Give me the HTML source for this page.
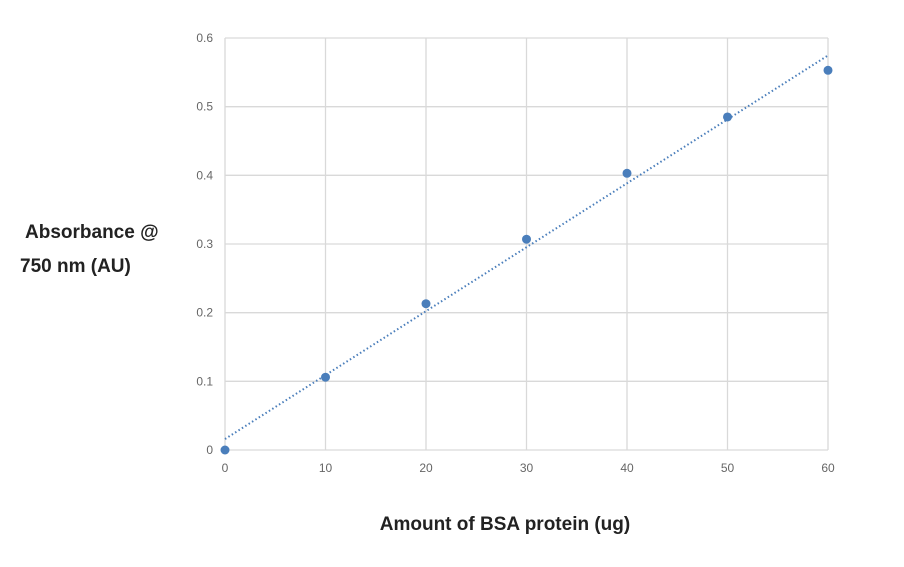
<!DOCTYPE html>
<html><head><meta charset="utf-8"><style>
body{margin:0;background:#fff;width:904px;height:562px;overflow:hidden;font-family:"Liberation Sans",sans-serif}
</style></head><body>
<svg id="chart" width="904" height="562" xmlns="http://www.w3.org/2000/svg">
<g id="grid"></g>
<g id="ticks" font-size="12" fill="#666"></g>
<g id="series"></g>
<text font-size="19" font-weight="bold" fill="#222"><tspan x="25" y="238">Absorbance @</tspan><tspan x="20" y="272">750 nm (AU)</tspan></text>
<text x="505" y="530" text-anchor="middle" font-size="19" font-weight="bold" fill="#222">Amount of BSA protein (ug)</text>
</svg>
<script>
const xValues=[0,10,20,30,40,50,60];
const yValues=[0,0.106,0.213,0.307,0.403,0.485,0.553];
const xTicks=[0,10,20,30,40,50,60];
const yTicks=[0,0.1,0.2,0.3,0.4,0.5,0.6];
const yTickLabels=["0","0.1","0.2","0.3","0.4","0.5","0.6"];
const X0=225,X1=828,Y0=450,Y1=38;
const sx=v=>X0+(v-0)/60*(X1-X0);
const sy=v=>Y0-(v-0)/0.6*(Y0-Y1);
const NS="http://www.w3.org/2000/svg";
function mk(t,a,p){const e=document.createElementNS(NS,t);for(const k in a)e.setAttribute(k,a[k]);p.appendChild(e);return e;}
const grid=document.getElementById('grid'),ticks=document.getElementById('ticks'),series=document.getElementById('series');
yTicks.forEach((v,i)=>{
 const l=mk('line',{x1:X0,x2:X1,y1:sy(v),y2:sy(v),stroke:'#d9d9d9','stroke-width':1.3},grid);
 
 
 const t=mk('text',{x:X0-12,y:sy(v)+4,'text-anchor':'end'},ticks);
 t.textContent=yTickLabels[i];
 
 
});
xTicks.forEach(v=>{
 const l=mk('line',{x1:sx(v),x2:sx(v),y1:Y1,y2:Y0,stroke:'#d9d9d9','stroke-width':1.3},grid);
 
 
 const t=mk('text',{x:sx(v),y:Y0+22,'text-anchor':'middle'},ticks);
 t.textContent=String(v);
 
 
});
// linear trendline (least squares)
const n=xValues.length;let mx=0,my=0;xValues.forEach((x,i)=>{mx+=x;my+=yValues[i];});mx/=n;my/=n;
let num=0,den=0;xValues.forEach((x,i)=>{num+=(x-mx)*(yValues[i]-my);den+=(x-mx)*(x-mx);});
const slope=num/den,icp=my-slope*mx;
const xmin=Math.min(...xValues),xmax=Math.max(...xValues);
const tl=mk('line',{x1:sx(xmin),y1:sy(icp+slope*xmin),x2:sx(xmax),y2:sy(icp+slope*xmax),stroke:'#4a7ebb','stroke-width':2,'stroke-dasharray':'1.5 2.5'},series);


xValues.forEach((x,i)=>{
 const c=mk('circle',{cx:sx(x),cy:sy(yValues[i]),r:4.5,fill:'#4a7ebb'},series);
 
 
});
</script>
</body></html>
